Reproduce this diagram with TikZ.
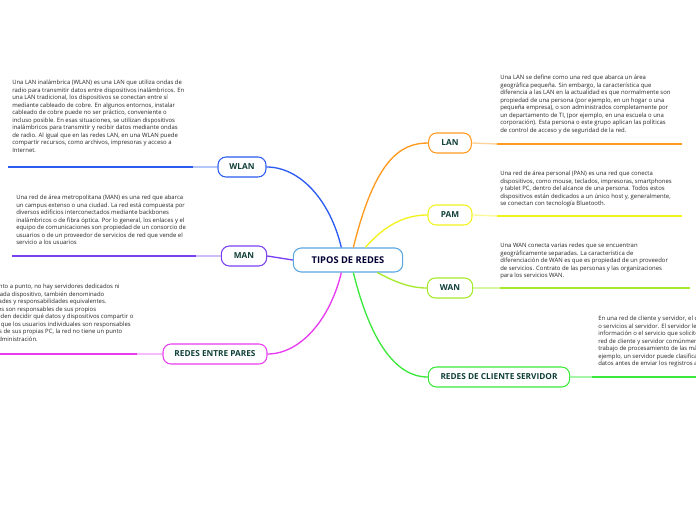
\documentclass[tikz,border=0pt]{standalone}
\usepackage{fontspec}
\setmainfont{Open Sans}
\definecolor{cwlan}{HTML}{2B5BF0}
\definecolor{cman}{HTML}{7B3FF2}
\definecolor{cpar}{HTML}{E83BF0}
\definecolor{clan}{HTML}{FF9A1F}
\definecolor{cpam}{HTML}{F2F21C}
\definecolor{cwan}{HTML}{A6EA2E}
\definecolor{ccli}{HTML}{3CE83C}
\definecolor{ccen}{HTML}{5AA6E0}
\definecolor{lab}{HTML}{11403A}
\tikzset{
 topic/.style={draw,line width=0.8pt,rounded corners=6pt,fill=white,font=\fontsize{6.2}{7}\selectfont\bfseries,text=lab,minimum height=15pt,inner xsep=0pt},
 body/.style={anchor=north west,align=left,inner sep=0pt,font=\fontsize{4.45}{5.6}\selectfont,text=black!85},
 branch/.style={line width=1pt},
}
\begin{document}
\begin{tikzpicture}[x=0.75pt,y=-0.75pt]
\clip (0,0) rectangle (696,520);
\fill[white] (0,0) rectangle (696,520);
% center
\node[topic,draw=ccen,text=black!80!blue,minimum width=82pt,minimum height=18pt,font=\fontsize{7}{8}\selectfont\bfseries] (c) at (348,260) {TIPOS DE REDES};
% topics
\node[topic,draw=cwlan,minimum width=36pt] (wlan) at (242,167) {WLAN};
\node[topic,draw=cman,minimum width=34pt] (man) at (244,256) {MAN};
\node[topic,draw=cpar,minimum width=78pt] (par) at (215,354) {REDES ENTRE PARES};
\node[topic,draw=clan,minimum width=32pt] (lan) at (450,143) {LAN};
\node[topic,draw=cpam,minimum width=33pt] (pam) at (450,215) {PAM};
\node[topic,draw=cwan,minimum width=34pt] (wan) at (450,288) {WAN};
\node[topic,draw=ccli,minimum width=106pt] (cli) at (499,377) {REDES DE CLIENTE SERVIDOR};
% branches
\draw[branch,cwlan] ([xshift=-5]c.north) .. controls (330,200) and (300,167) .. (wlan.east);
\draw[branch,cman] (c.west) -- (man.east);
\draw[branch,cpar] ([xshift=-5]c.south) .. controls (330,320) and (300,354) .. (par.east);
\draw[branch,clan] ([xshift=4]c.north) .. controls (375,160) and (400,143) .. (lan.west);
\draw[branch,cpam] ([xshift=13]c.north) .. controls (385,225) and (405,215) .. (pam.west);
\draw[branch,cwan] ([xshift=22]c.south) .. controls (395,282) and (410,288) .. (wan.west);
\draw[branch,ccli] ([xshift=4]c.south) .. controls (370,340) and (395,377) .. (cli.west);
% underlines
\coordinate (uw) at (8,167); \coordinate (uw2) at (193,167);
\draw[line width=1pt,cwlan!35] (wlan.west) -- (uw2);
\draw[line width=1.3pt,cwlan] (uw2) -- (uw);
\coordinate (um) at (12,256); \coordinate (um2) at (196,256);
\draw[line width=1pt,cman!35] (man.west) -- (um2);
\draw[line width=1.3pt,cman] (um2) -- (um);
\coordinate (up) at (0,354); \coordinate (up2) at (137,354);
\draw[line width=1pt,cpar!35] (par.west) -- (up2);
\draw[line width=1.3pt,cpar] (up2) -- (up);
\coordinate (ul) at (497,144); \coordinate (ul2) at (682,144);
\draw[line width=1pt,clan!45] (lan.east) -- (ul);
\draw[line width=1.3pt,clan] (ul) -- (ul2);
\coordinate (ua) at (497,216); \coordinate (ua2) at (682,216);
\draw[line width=1pt,cpam!45] (pam.east) -- (ua);
\draw[line width=1.3pt,cpam] (ua) -- (ua2);
\coordinate (un) at (500,288); \coordinate (un2) at (690,288);
\draw[line width=1pt,cwan!45] (wan.east) -- (un);
\draw[line width=1.3pt,cwan] (un) -- (un2);
\coordinate (uc) at (592,377); \coordinate (uc2) at (696,377);
\draw[line width=1pt,ccli!45] (cli.east) -- (uc);
\draw[line width=1.3pt,ccli] (uc) -- (uc2);
% texts
\node[body] (twlan) at (12,80) {Una LAN inalámbrica (WLAN) es una LAN que utiliza ondas de\\radio para transmitir datos entre dispositivos inalámbricos. En\\una LAN tradicional, los dispositivos se conectan entre sí\\mediante cableado de cobre. En algunos entornos, instalar\\cableado de cobre puede no ser práctico, conveniente o\\incluso posible. En esas situaciones, se utilizan dispositivos\\inalámbricos para transmitir y recibir datos mediante ondas\\de radio. Al igual que en las redes LAN, en una WLAN puede\\compartir recursos, como archivos, impresoras y acceso a\\Internet.};
\node[body] (tman) at (16,195) {Una red de área metropolitana (MAN) es una red que abarca\\un campus extenso o una ciudad. La red está compuesta por\\diversos edificios interconectados mediante backbones\\inalámbricos o de fibra óptica. Por lo general, los enlaces y el\\equipo de comunicaciones son propiedad de un consorcio de\\usuarios o de un proveedor de servicios de red que vende el\\servicio a los usuarios};
\node[body] (tpar) at (-40,284) {En una red punto a punto, no hay servidores dedicados ni\\entre las PC. Cada dispositivo, también denominado\\nodo, capacidades y responsabilidades equivalentes.\\Los individuales son responsables de sus propios\\recursos y pueden decidir qué datos y dispositivos compartir o\\instalar. Dado que los usuarios individuales son responsables\\de los recursos de sus propias PC, la red no tiene un punto\\de control o administración.};
\node[body] (tlan) at (500,75) {Una LAN se define como una red que abarca un área\\geográfica pequeña. Sin embargo, la característica que\\diferencia a las LAN en la actualidad es que normalmente son\\propiedad de una persona (por ejemplo, en un hogar o una\\pequeña empresa), o son administrados completamente por\\un departamento de TI, (por ejemplo, en una escuela o una\\corporación). Esta persona o este grupo aplican las políticas\\de control de acceso y de seguridad de la red.};
\node[body] (tpam) at (500,171) {Una red de área personal (PAN) es una red que conecta\\dispositivos, como mouse, teclados, impresoras, smartphones\\y tablet PC, dentro del alcance de una persona. Todos estos\\dispositivos están dedicados a un único host y, generalmente,\\se conectan con tecnología Bluetooth.};
\node[body] (twan) at (500,243) {Una WAN conecta varias redes que se encuentran\\geográficamente separadas. La característica de\\diferenciación de WAN es que es propiedad de un proveedor\\de servicios. Contrato de las personas y las organizaciones\\para los servicios WAN.};
\node[body] (tcli) at (598,316) {En una red de cliente y servidor, el cliente solicita información\\o servicios al servidor. El servidor le proporciona al cliente la\\información o el servicio que solicitó. En los modelos de\\red de cliente y servidor comúnmente se realiza parte del\\trabajo de procesamiento de las máquinas cliente. Por\\ejemplo, un servidor puede clasificar la base de\\datos antes de enviar los registros al cliente.};
\end{tikzpicture}
\end{document}
